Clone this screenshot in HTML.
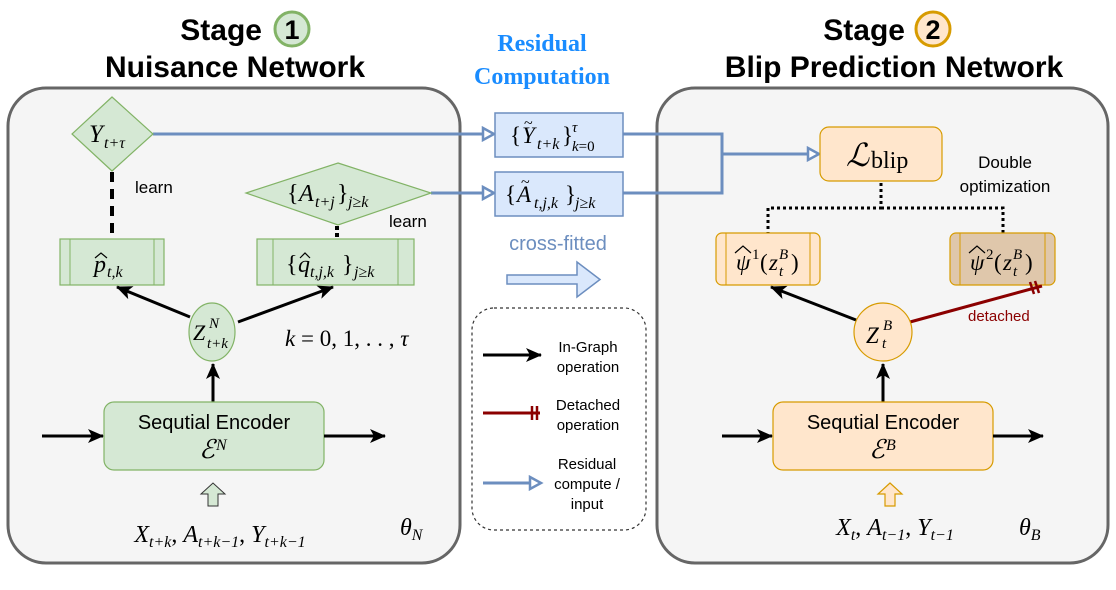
<!DOCTYPE html>
<html><head><meta charset="utf-8"><style>
html,body{margin:0;padding:0;background:#fff;}
svg{display:block;}
.s{font-family:"Liberation Sans",sans-serif;}
.m{font-family:"Liberation Serif",serif;font-style:italic;}
.r{font-family:"Liberation Serif",serif;font-style:normal;}
</style></head><body>
<svg width="1116" height="590" viewBox="0 0 1116 590" xmlns="http://www.w3.org/2000/svg">
<defs>
<marker id="ab" markerWidth="18" markerHeight="16" refX="15" refY="8" orient="auto" markerUnits="userSpaceOnUse"><path d="M0,1 L16,8 L0,15 L4,8 Z" fill="#000"/></marker>
<marker id="abl" markerWidth="16" markerHeight="16" refX="13" refY="8" orient="auto" markerUnits="userSpaceOnUse"><path d="M2,2 L13,8 L2,14 Z" fill="#fff" stroke="#6c8ebf" stroke-width="2.5"/></marker>
</defs>
<!-- panels -->
<rect x="8" y="88" width="452" height="475" rx="38" fill="#f5f5f5" stroke="#666" stroke-width="3"/>
<rect x="657" y="88" width="451" height="475" rx="38" fill="#f5f5f5" stroke="#666" stroke-width="3"/>
<!-- titles -->
<text x="262" y="40" class="s" font-size="30" font-weight="bold" text-anchor="end">Stage</text>
<circle cx="292" cy="29" r="17" fill="#d5e8d4" stroke="#82b366" stroke-width="3"/>
<text x="292" y="39" class="s" font-size="27" font-weight="bold" text-anchor="middle">1</text>
<text x="235" y="77" class="s" font-size="30" font-weight="bold" text-anchor="middle">Nuisance Network</text>
<text x="905" y="40" class="s" font-size="30" font-weight="bold" text-anchor="end">Stage</text>
<circle cx="933" cy="29" r="17" fill="#ffe6cc" stroke="#d79b00" stroke-width="3"/>
<text x="933" y="39" class="s" font-size="27" font-weight="bold" text-anchor="middle">2</text>
<text x="894" y="77" class="s" font-size="30" font-weight="bold" text-anchor="middle">Blip Prediction Network</text>
<text x="542" y="51" font-family="Liberation Serif,serif" font-weight="bold" font-size="24" fill="#1a8cff" text-anchor="middle">Residual</text>
<text x="542" y="84" font-family="Liberation Serif,serif" font-weight="bold" font-size="24" fill="#1a8cff" text-anchor="middle">Computation</text>
<!-- blue connections -->
<line x1="153" y1="134" x2="494" y2="134" stroke="#6c8ebf" stroke-width="3" marker-end="url(#abl)"/>
<line x1="431" y1="193" x2="494" y2="193" stroke="#6c8ebf" stroke-width="3" marker-end="url(#abl)"/>
<polyline points="623,134 722,134 722,193 623,193" fill="none" stroke="#6c8ebf" stroke-width="3"/>
<line x1="722" y1="154" x2="819" y2="154" stroke="#6c8ebf" stroke-width="3" marker-end="url(#abl)"/>
<!-- residual boxes -->
<rect x="495" y="113" width="128" height="44" fill="#dae8fc" stroke="#6c8ebf" stroke-width="1.5"/>
<text x="510" y="143" class="r" font-size="23">{</text>
<text x="522" y="143" class="m" font-size="23">Y</text>
<text x="524" y="128" class="r" font-size="16">~</text>
<text x="537" y="149" class="m" font-size="16">t+k</text>
<text x="562" y="143" class="r" font-size="23">}</text>
<text x="572" y="132" class="m" font-size="15">τ</text>
<text x="572" y="151" class="r" font-size="15"><tspan class="m">k</tspan>=0</text>
<rect x="495" y="172" width="128" height="44" fill="#dae8fc" stroke="#6c8ebf" stroke-width="1.5"/>
<text x="505" y="202" class="r" font-size="23">{</text>
<text x="517" y="202" class="m" font-size="23">A</text>
<text x="521" y="187" class="r" font-size="16">~</text>
<text x="534" y="208" class="m" font-size="16">t,j,k</text>
<text x="565" y="202" class="r" font-size="23">}</text>
<text x="575" y="208" class="m" font-size="16">j≥k</text>
<text x="558" y="250" class="s" font-size="20" fill="#6c8ebf" text-anchor="middle">cross-fitted</text>
<path d="M507,275 L577,275 L577,262 L600,279.5 L577,297 L577,284 L507,284 Z" fill="#dae8fc" stroke="#6c8ebf" stroke-width="1.5"/>
<!-- legend -->
<rect x="472" y="308" width="174" height="222" rx="22" fill="#fff" stroke="#333" stroke-width="1.2" stroke-dasharray="3,3"/>
<line x1="483" y1="355" x2="541" y2="355" stroke="#000" stroke-width="3" marker-end="url(#ab)"/>
<text x="588" y="352" class="s" font-size="15" text-anchor="middle">In-Graph</text>
<text x="588" y="372" class="s" font-size="15" text-anchor="middle">operation</text>
<line x1="483" y1="413" x2="540" y2="413" stroke="#8b0000" stroke-width="3"/>
<line x1="532" y1="406" x2="532" y2="420" stroke="#8b0000" stroke-width="2.5"/>
<line x1="537" y1="406" x2="537" y2="420" stroke="#8b0000" stroke-width="2.5"/>
<text x="588" y="410" class="s" font-size="15" text-anchor="middle">Detached</text>
<text x="588" y="430" class="s" font-size="15" text-anchor="middle">operation</text>
<line x1="483" y1="483" x2="541" y2="483" stroke="#6c8ebf" stroke-width="3" marker-end="url(#abl)"/>
<text x="587" y="469" class="s" font-size="15" text-anchor="middle">Residual</text>
<text x="587" y="489" class="s" font-size="15" text-anchor="middle">compute /</text>
<text x="587" y="509" class="s" font-size="15" text-anchor="middle">input</text>
<!-- left panel content -->
<polygon points="112,97 153,134 112,171 72,134" fill="#d5e8d4" stroke="#82b366" stroke-width="1.2"/>
<text x="89" y="142" class="m" font-size="25">Y</text>
<text x="104" y="148" class="m" font-size="16">t+τ</text>
<polygon points="338,163 431,193 338,225 246,193" fill="#d5e8d4" stroke="#82b366" stroke-width="1.2"/>
<text x="287" y="201" class="r" font-size="24">{</text>
<text x="299" y="201" class="m" font-size="24">A</text>
<text x="315" y="207" class="m" font-size="16">t+j</text>
<text x="337" y="201" class="r" font-size="24">}</text>
<text x="348" y="207" class="m" font-size="16">j≥k</text>
<line x1="112" y1="172" x2="112" y2="238" stroke="#000" stroke-width="4" stroke-dasharray="10,7"/>
<line x1="337" y1="226" x2="337" y2="238" stroke="#000" stroke-width="4" stroke-dasharray="4,3"/>
<text x="135" y="193" class="s" font-size="17">learn</text>
<text x="389" y="227" class="s" font-size="17">learn</text>
<rect x="60" y="239" width="104" height="46" fill="#d5e8d4" stroke="#82b366" stroke-width="1.2"/>
<line x1="70" y1="239" x2="70" y2="285" stroke="#82b366"/><line x1="154" y1="239" x2="154" y2="285" stroke="#82b366"/>
<text x="94" y="272" class="m" font-size="24">p</text>
<path d="M95,258 L101,253 L107,258" fill="none" stroke="#000" stroke-width="1.2"/>
<text x="107" y="277" class="m" font-size="16">t,k</text>
<rect x="257" y="239" width="157" height="46" fill="#d5e8d4" stroke="#82b366" stroke-width="1.2"/>
<line x1="273" y1="239" x2="273" y2="285" stroke="#82b366"/><line x1="398" y1="239" x2="398" y2="285" stroke="#82b366"/>
<text x="286" y="272" class="r" font-size="24">{</text>
<text x="298" y="272" class="m" font-size="24">q</text>
<path d="M300,258 L305,253 L310,258" fill="none" stroke="#000" stroke-width="1.2"/>
<text x="310" y="277" class="m" font-size="16">t,j,k</text>
<text x="342" y="272" class="r" font-size="24">}</text>
<text x="354" y="277" class="m" font-size="16">j≥k</text>
<line x1="190" y1="317" x2="117" y2="287" stroke="#000" stroke-width="3" marker-end="url(#ab)"/>
<line x1="238" y1="322" x2="333" y2="287" stroke="#000" stroke-width="3" marker-end="url(#ab)"/>
<ellipse cx="212" cy="332" rx="23" ry="29" fill="#d5e8d4" stroke="#82b366" stroke-width="1.2"/>
<text x="193" y="340" class="m" font-size="22">Z</text>
<text x="209" y="328" class="m" font-size="15">N</text>
<text x="207" y="348" class="m" font-size="15">t+k</text>
<text x="285" y="346" class="m" font-size="23">k <tspan class="r">= 0, 1, . . , </tspan>τ</text>
<line x1="213" y1="402" x2="213" y2="364" stroke="#000" stroke-width="3" marker-end="url(#ab)"/>
<rect x="104" y="402" width="220" height="68" rx="10" fill="#d5e8d4" stroke="#82b366" stroke-width="1.2"/>
<text x="214" y="429" class="s" font-size="20" text-anchor="middle">Sequtial Encoder</text>
<text x="207" y="458" class="m" font-size="26" text-anchor="middle">ℰ</text>
<text x="216" y="450" class="m" font-size="16">N</text>
<line x1="42" y1="436" x2="103" y2="436" stroke="#000" stroke-width="3" marker-end="url(#ab)"/>
<line x1="324" y1="436" x2="385" y2="436" stroke="#000" stroke-width="3" marker-end="url(#ab)"/>
<path d="M208,506 L218,506 L218,494 L225,494 L213,483 L201,494 L208,494 Z" fill="#d5e8d4" stroke="#333" stroke-width="1"/>
<text x="220" y="542" class="m" font-size="24" text-anchor="middle">X<tspan font-size="16" dy="5">t+k</tspan><tspan class="r" dy="-5">, </tspan>A<tspan font-size="16" dy="5">t+k−1</tspan><tspan class="r" dy="-5">, </tspan>Y<tspan font-size="16" dy="5">t+k−1</tspan></text>
<text x="400" y="535" class="m" font-size="24">θ<tspan font-size="16" dy="5">N</tspan></text>
<!-- right panel content -->
<rect x="820" y="127" width="122" height="54" rx="9" fill="#ffe6cc" stroke="#d79b00" stroke-width="1.2"/>
<text x="846" y="166" class="m" font-size="32">ℒ</text>
<text x="871" y="168" class="r" font-size="24">blip</text>
<text x="1005" y="168" class="s" font-size="17" text-anchor="middle">Double</text>
<text x="1005" y="192" class="s" font-size="17" text-anchor="middle">optimization</text>
<polyline points="881,183 881,208 768,208 768,233" fill="none" stroke="#000" stroke-width="3" stroke-dasharray="3,3"/>
<polyline points="881,208 1003,208 1003,233" fill="none" stroke="#000" stroke-width="3" stroke-dasharray="3,3"/>
<rect x="716" y="233" width="104" height="52" rx="6" fill="#ffe6cc" stroke="#d79b00" stroke-width="1.2"/>
<line x1="726" y1="233" x2="726" y2="285" stroke="#d79b00"/><line x1="810" y1="233" x2="810" y2="285" stroke="#d79b00"/>
<text x="736" y="270" class="m" font-size="23">ψ</text>
<path d="M735,253 L743,246 L751,253" fill="none" stroke="#000" stroke-width="1.2"/>
<text x="752" y="259" class="r" font-size="15">1</text>
<text x="760" y="270" class="r" font-size="23">(</text>
<text x="769" y="270" class="m" font-size="23">z</text>
<text x="779" y="259" class="m" font-size="15">B</text>
<text x="779" y="276" class="m" font-size="15">t</text>
<text x="791" y="270" class="r" font-size="23">)</text>
<rect x="950" y="233" width="105" height="52" rx="6" fill="#dfc7ab" stroke="#d79b00" stroke-width="1.2"/>
<line x1="960" y1="233" x2="960" y2="285" stroke="#d79b00"/><line x1="1045" y1="233" x2="1045" y2="285" stroke="#d79b00"/>
<text x="970" y="270" class="m" font-size="23">ψ</text>
<path d="M969,253 L977,246 L985,253" fill="none" stroke="#000" stroke-width="1.2"/>
<text x="986" y="259" class="r" font-size="15">2</text>
<text x="994" y="270" class="r" font-size="23">(</text>
<text x="1003" y="270" class="m" font-size="23">z</text>
<text x="1013" y="259" class="m" font-size="15">B</text>
<text x="1013" y="276" class="m" font-size="15">t</text>
<text x="1025" y="270" class="r" font-size="23">)</text>
<line x1="856" y1="320" x2="771" y2="287" stroke="#000" stroke-width="3" marker-end="url(#ab)"/>
<line x1="910" y1="322" x2="1042" y2="286" stroke="#8b0000" stroke-width="3"/>
<line x1="1030" y1="282" x2="1034" y2="294" stroke="#8b0000" stroke-width="2.5"/>
<line x1="1035" y1="281" x2="1039" y2="293" stroke="#8b0000" stroke-width="2.5"/>
<text x="968" y="321" class="s" font-size="15" fill="#8b0000">detached</text>
<circle cx="883" cy="332" r="29" fill="#ffe6cc" stroke="#d79b00" stroke-width="1.2"/>
<text x="866" y="343" class="m" font-size="23">Z</text>
<text x="883" y="330" class="m" font-size="15">B</text>
<text x="882" y="348" class="m" font-size="15">t</text>
<line x1="883" y1="402" x2="883" y2="364" stroke="#000" stroke-width="3" marker-end="url(#ab)"/>
<rect x="773" y="402" width="220" height="68" rx="10" fill="#ffe6cc" stroke="#d79b00" stroke-width="1.2"/>
<text x="883" y="429" class="s" font-size="20" text-anchor="middle">Sequtial Encoder</text>
<text x="877" y="458" class="m" font-size="26" text-anchor="middle">ℰ</text>
<text x="886" y="450" class="m" font-size="16">B</text>
<line x1="722" y1="436" x2="772" y2="436" stroke="#000" stroke-width="3" marker-end="url(#ab)"/>
<line x1="993" y1="436" x2="1043" y2="436" stroke="#000" stroke-width="3" marker-end="url(#ab)"/>
<path d="M885,506 L895,506 L895,494 L902,494 L890,483 L878,494 L885,494 Z" fill="#ffe6cc" stroke="#d79b00" stroke-width="1.2"/>
<text x="895" y="535" class="m" font-size="24" text-anchor="middle">X<tspan font-size="16" dy="5">t</tspan><tspan class="r" dy="-5">, </tspan>A<tspan font-size="16" dy="5">t−1</tspan><tspan class="r" dy="-5">, </tspan>Y<tspan font-size="16" dy="5">t−1</tspan></text>
<text x="1019" y="535" class="m" font-size="24">θ<tspan font-size="16" dy="5">B</tspan></text>
</svg>
</body></html>
